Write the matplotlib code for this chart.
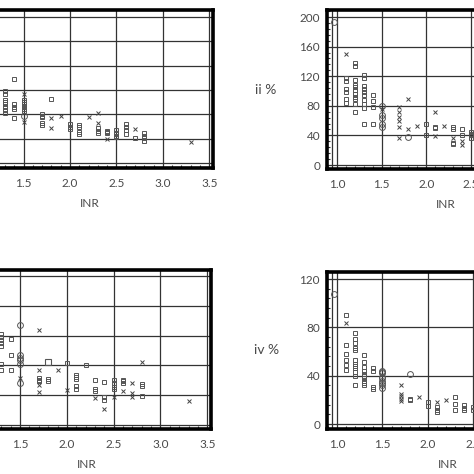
import numpy as np
import matplotlib
matplotlib.use("Agg")
import matplotlib.pyplot as plt
from matplotlib.ticker import MultipleLocator

plt.rcParams['font.family'] = ['Lato', 'DejaVu Sans']

# ---- panel i (top left, y labels cropped away) ----
p1_sq_x = [1.3]*8 + [1.4]*5 + [1.5]*7 + [1.7]*5 + [1.8] + [2.0]*3 + [2.1]*4 + [2.3]*3 + [2.4]*3 + [2.5]*5 + [2.6]*4 + [2.7] + [2.8]*4
p1_sq_y = [59, 57, 52, 50, 48.5, 46, 43.5, 41,
           69, 48.5, 46, 44, 37,
           52, 50, 48.5, 47, 46, 44, 43,
           40, 39, 38, 33, 31,
           52.5,
           32, 30, 28,
           31, 29.6, 25.5, 24,
           29, 26.6, 25,
           26, 25.5, 24.6,
           27, 25, 23.5, 22, 21,
           32, 29.6, 27, 24,
           20.5,
           24.6, 22, 20.5, 18]
p1_ci_x = [1.5]
p1_ci_y = [38.6]
p1_xx_x = [1.5, 1.5, 1.8, 1.8, 1.9, 2.2, 2.3, 2.3, 2.4, 2.7, 3.3]
p1_xx_y = [57, 34, 37, 29, 38.6, 38, 41, 33, 19.7, 28, 17]

# ---- panel ii (top right) ----
p2_sq_x = [1.1]*6 + [1.2]*11 + [1.3]*10 + [1.4]*4 + [2.0]*2 + [2.1]*2 + [2.3]*4 + [2.4]*2 + [2.5]*4
p2_sq_y = [117, 113, 103, 99, 89, 84,
           138, 134, 115, 108, 105, 101, 96, 92, 89, 82, 71,
           121, 117, 107, 103, 98, 94, 88, 82, 77, 56,
           94, 87, 78, 56,
           55, 41,
           52, 50,
           51, 48, 30, 28,
           49, 41,
           45, 42, 40, 37]
p2_ci_x = [0.97, 1.5, 1.5, 1.5, 1.5, 1.5, 1.8]
p2_ci_y = [193, 80, 67, 64, 56, 52, 38]
p2_xx_x = [1.1, 1.5, 1.7, 1.7, 1.7, 1.7, 1.7, 1.7, 1.8, 1.8, 1.9, 2.1, 2.1, 2.2, 2.3, 2.4, 2.4]
p2_xx_y = [150, 76, 78, 71, 65, 59, 52, 36, 89, 49, 53, 71, 39, 53, 37, 33, 27]

# ---- panel iii (bottom left, y labels cropped away) ----
p3_sq_x = [1.3]*7 + [1.4]*3 + [1.7]*3 + [1.8]*2 + [2.0] + [2.1]*5 + [2.2] + [2.3]*3 + [2.4]*3 + [2.5]*4 + [2.6]*3 + [2.8]*3
p3_sq_y = [122, 118, 114, 110, 106, 82, 74,
           115, 94, 74,
           63, 61, 59,
           62, 59,
           83,
           67, 64, 62, 52, 48,
           80,
           60, 48, 46,
           58, 38, 34,
           60, 57, 51, 48,
           61, 59, 57,
           55, 52, 39]
p3_big_x = [1.8]
p3_big_y = [85]
p3_ci_x = [1.5]*6
p3_ci_y = [134, 94, 90, 87, 82, 56]
p3_xx_x = [1.5, 1.7, 1.7, 1.7, 1.7, 1.9, 2.0, 2.3, 2.4, 2.5, 2.6, 2.7, 2.7, 2.7, 2.8, 3.3]
p3_xx_y = [63, 127, 74, 54, 44, 74, 47, 36, 22, 37, 46, 57, 43, 37, 85, 32]

# ---- panel iv (bottom right) ----
p4_sq_x = [1.1]*6 + [1.2]*12 + [1.3]*10 + [1.4]*4 + [1.8]*2 + [2.0]*2 + [2.1]*3 + [2.3]*3 + [2.4]*3 + [2.5]*2
p4_sq_y = [90, 65, 58, 53, 49, 45,
           75, 70, 67, 63, 61, 53, 50, 48, 46, 43, 40, 32,
           57, 51, 47, 44, 41, 40, 38, 36, 34, 32,
           46, 44, 31, 29,
           21, 20,
           18, 15,
           14, 12, 10,
           22, 16.5, 12,
           16, 13.5, 12,
           14, 12]
p4_ci_x = [0.97] + [1.5]*9 + [1.8]
p4_ci_y = [108, 44, 43, 42, 39, 38, 36, 34, 32, 30, 41]
p4_xx_x = [1.1, 1.7, 1.7, 1.7, 1.7, 1.7, 1.9, 2.1, 2.2]
p4_xx_y = [84, 32, 25, 23, 21, 19, 22, 18, 20]

x_ticks = [1.0, 1.5, 2.0, 2.5, 3.0, 3.5]
x_labels = ['1.0', '1.5', '2.0', '2.5', '3.0', '3.5']

W = 474.0
fig = plt.figure(figsize=(4.74, 4.74), dpi=100)


def make_ax(left, top, width, height):
    # pixel box -> figure fraction
    return fig.add_axes([left / W, 1 - (top + height) / W, width / W, height / W])


def style(ax, ylim, ystep, yminor, ylabel=None, cropped=False):
    ax.set_xlim(0.89, 3.54)
    ax.set_ylim(*ylim)
    ax.set_xticks(x_ticks)
    if cropped:
        # left part of these panels is outside the picture
        ax.set_xticklabels([''] + x_labels[1:])
    else:
        # right part is outside the picture
        ax.set_xticklabels(x_labels[:4] + ['', ''])
    ax.set_yticks(np.arange(0, ylim[1], ystep))
    if cropped:
        ax.set_yticklabels([])
    ax.xaxis.set_minor_locator(MultipleLocator(0.1))
    ax.yaxis.set_minor_locator(MultipleLocator(yminor))
    ax.grid(True, which='major', color='#333333', lw=0.9)
    ax.axvline(0.95, color='#333333', lw=0.9)
    ax.tick_params(which='major', length=0, labelsize=8.5, labelcolor='#4a4a4a', pad=5)
    ax.tick_params(which='minor', direction='in', length=2.5, width=0.8, color='#333333')
    ax.tick_params(axis='x', which='major', pad=7)
    for s in ax.spines.values():
        s.set_linewidth(2.6)
        s.set_color('black')
    ax.set_xlabel('INR', fontsize=8.5, color='#4a4a4a', labelpad=7)
    if ylabel:
        ax.set_ylabel(ylabel, fontsize=10, color='#4a4a4a', rotation=0, labelpad=24, va='center')


def scatter(ax, sx, sy, cx, cy, xx, xy):
    ax.plot(sx, sy, 's', ms=3.5, mfc='none', mec='#555555', mew=0.7, ls='none')
    ax.plot(cx, cy, 'o', ms=4.2, mfc='none', mec='#555555', mew=0.7, ls='none')
    ax.plot(xx, xy, 'x', ms=2.4, color='#444444', mew=0.7, ls='none')


ax1 = make_ax(-33, 10, 246, 158)
style(ax1, (-4.1, 125.8), 20, 4, cropped=True)
scatter(ax1, p1_sq_x, p1_sq_y, p1_ci_x, p1_ci_y, p1_xx_x, p1_xx_y)

ax2 = make_ax(327, 10, 237, 159)
style(ax2, (-5.4, 209.5), 40, 8, 'ii %')
scatter(ax2, p2_sq_x, p2_sq_y, p2_ci_x, p2_ci_y, p2_xx_x, p2_xx_y)

ax3 = make_ax(-37, 270, 248, 159)
style(ax3, (-5.4, 208), 40, 8, cropped=True)
scatter(ax3, p3_sq_x, p3_sq_y, p3_ci_x, p3_ci_y, p3_xx_x, p3_xx_y)
ax3.plot(p3_big_x, p3_big_y, 's', ms=5, mfc='none', mec='#555555', mew=0.8, ls='none')

ax4 = make_ax(327, 272, 241, 157)
style(ax4, (-4.1, 125.8), 40, 8, 'iv %')
scatter(ax4, p4_sq_x, p4_sq_y, p4_ci_x, p4_ci_y, p4_xx_x, p4_xx_y)

fig.savefig('out.png', dpi=100)
